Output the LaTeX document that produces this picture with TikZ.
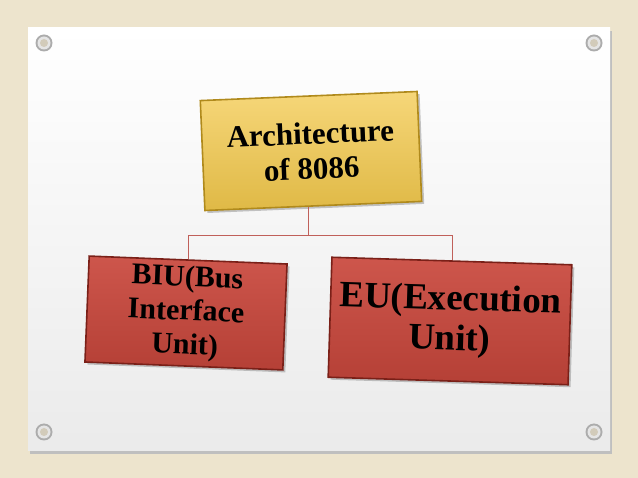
\documentclass[tikz,border=0pt]{standalone}
\usepackage{fontspec}
\setmainfont{Liberation Serif}
\usepackage{tikz}
\usetikzlibrary{calc,shadows}
\definecolor{canvasbg}{HTML}{EDE4CD}
\definecolor{archfill}{HTML}{F3C94C}
\definecolor{archedge}{HTML}{B08A1C}
\definecolor{unitfill}{HTML}{C9473C}
\definecolor{unitedge}{HTML}{7A2018}
\definecolor{linkred}{HTML}{C0605A}

\begin{document}
\begin{tikzpicture}[x=1pt, y=-1pt,
    box/.style={draw, line width=1.6pt, align=center, inner sep=0pt,
      drop shadow={shadow xshift=2.5pt, shadow yshift=-2.5pt, opacity=0.45}},
    archbox/.style={box, draw=archedge, top color=archfill!75!white, bottom color=archfill!92!black,
      font=\fontsize{31}{35}\selectfont\bfseries},
    unitbox/.style={box, draw=unitedge, top color=unitfill!92!white, bottom color=unitfill!90!black},
    link/.style={linkred, line width=0.8pt}]
  \useasboundingbox (0,0) rectangle (638,478);
  \fill[canvasbg] (0,0) rectangle (638,478);
  % board
  \fill[black!25] (30,31) rectangle (612,454);
  \shade[top color=white, bottom color=black!8] (28,28) rectangle (610,451);
  \foreach \gx/\gy in {44/43, 594/43, 44/432, 594/432}{
    \fill[gray!65] (\gx,\gy) circle (8.5);
    \fill[gray!20] (\gx,\gy) circle (6.5);
    \fill[canvasbg!75!gray] (\gx,\gy) circle (4);
  }

  \node[archbox, minimum width=217pt, minimum height=110pt, rotate=2.4] (arch) at (311,151)
    {Architecture\\of\ 8086};
  \node[unitbox, minimum width=198pt, minimum height=106pt, rotate=-2.3,
    font=\fontsize{30}{34}\selectfont\bfseries] (biu) at (186,313)
    {BIU(Bus\\Interface\\Unit)};
  \node[unitbox, minimum width=240pt, minimum height=120pt, rotate=-1.8,
    font=\fontsize{37}{40}\selectfont\bfseries] (eu) at (450,321)
    {EU(Execution\\Unit)};

  % connectors
  \coordinate (split) at (308,235);
  \draw[link] (split |- arch.south) -- (split);
  \draw[link] (split) -| (biu.north);
  \draw[link] (split) -| (eu.north);
\end{tikzpicture}
\end{document}
